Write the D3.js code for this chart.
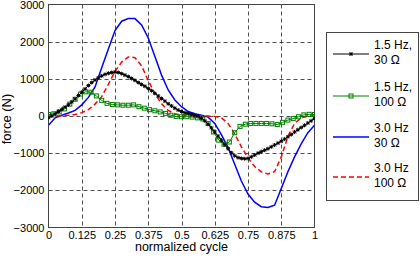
<!DOCTYPE html>
<html><head><meta charset="utf-8">
<script src="https://cdn.jsdelivr.net/npm/d3@7"></script>
<style>body{margin:0;background:#fff}svg{display:block;font-family:"Liberation Sans",Arial,sans-serif}</style>
</head><body><svg id="c" width="420" height="262"></svg>
<script>
const xTicks = [0,0.125,0.25,0.375,0.5,0.625,0.75,0.875,1];
const xTickLabels = ["0","0.125","0.25","0.375","0.5","0.625","0.75","0.875","1"];
const yTicks = [-3000,-2000,-1000,0,1000,2000,3000];
const seriesNames = [["1.5 Hz,","30 \u03A9"],["1.5 Hz,","100 \u03A9"],["3.0 Hz","30 \u03A9"],["3.0 Hz","100 \u03A9"]];
// 1.5 Hz 30 ohm, step 0.0125
const black = [-50,0,60,120,180,240,300,380,460,550,640,730,820,900,970,1030,1080,1120,1150,1170,1180,1170,1140,1100,1060,1010,960,900,850,800,740,680,610,540,470,400,330,270,210,160,120,90,70,50,20,-10,-60,-130,-220,-320,-430,-540,-650,-770,-880,-990,-1070,-1120,-1140,-1150,-1140,-1100,-1050,-1000,-960,-920,-880,-830,-780,-730,-680,-620,-560,-500,-430,-370,-310,-250,-190,-130,-70];
// 1.5 Hz 100 ohm, step 0.02
const green = [40,60,110,190,320,450,590,650,640,540,420,340,310,300,290,290,300,250,210,170,140,110,70,20,-10,-20,-20,-30,-50,-80,-200,-430,-650,-760,-700,-450,-280,-220,-200,-200,-200,-200,-210,-230,-170,-110,-70,-20,30,45,40];
// 3.0 Hz 30 ohm, step 0.025
const blue = [-250,-50,20,80,150,300,500,780,1300,1800,2300,2550,2620,2620,2450,2100,1600,1100,700,430,250,120,60,20,-30,-200,-500,-850,-1300,-1750,-2100,-2320,-2440,-2460,-2400,-1950,-1500,-1100,-750,-450,-250];
// 3.0 Hz 100 ohm, step 0.025
const red = [0,0,10,20,40,90,170,320,520,850,1200,1450,1590,1570,1350,950,600,330,150,60,20,10,0,0,0,-10,-50,-200,-480,-830,-1130,-1360,-1500,-1560,-1500,-1100,-550,-200,-50,0,0];

const svg = d3.select("#c");
const L=48.5, R=314.5, T=4.5, B=227.5;
const x = d3.scaleLinear().domain([0,1]).range([L,R]);
const y = d3.scaleLinear().domain([-3000,3000]).range([B,T]);

// grid
const g = svg.append("g");
g.selectAll(".vg").data(xTicks.slice(1,-1)).enter().append("line")
  .attr("x1",d=>Math.round(x(d))+0.5).attr("x2",d=>Math.round(x(d))+0.5).attr("y1",T).attr("y2",B)
  .attr("stroke","#222").attr("stroke-width",0.8).attr("stroke-dasharray","4,3");
g.selectAll(".hg").data(yTicks.slice(1,-1)).enter().append("line")
  .attr("x1",L).attr("x2",R).attr("y1",d=>Math.round(y(d))+0.5).attr("y2",d=>Math.round(y(d))+0.5)
  .attr("stroke","#222").attr("stroke-width",0.8).attr("stroke-dasharray","4,3");

// axes
const xa = svg.append("g").attr("transform",`translate(0,${B})`)
  .call(d3.axisBottom(x).tickValues(xTicks).tickFormat((d,i)=>xTickLabels[i]).tickSize(0).tickPadding(4));
const ya = svg.append("g").attr("transform",`translate(${L},0)`)
  .call(d3.axisLeft(y).tickValues(yTicks).tickFormat(d3.format("d")).tickSize(0).tickPadding(4));
[xa,ya].forEach(a=>{a.select(".domain").remove();a.selectAll("text").attr("font-size",11).attr("fill","#000").attr("font-family","Liberation Sans, Arial, sans-serif");});
svg.append("rect").attr("x",L).attr("y",T).attr("width",R-L).attr("height",B-T).attr("fill","none").attr("stroke","#444").attr("stroke-width",1);

svg.append("text").attr("x",(L+R)/2).attr("y",251).attr("text-anchor","middle").attr("font-size",12.5).text("normalized cycle");
svg.append("text").attr("transform",`translate(11,119) rotate(-90)`).attr("text-anchor","middle").attr("font-size",13).text("force (N)");

const clip = svg.append("defs").append("clipPath").attr("id","cp").append("rect").attr("x",L).attr("y",T).attr("width",R-L).attr("height",B-T);
const plot = svg.append("g").attr("clip-path","url(#cp)");
const line = d3.line().x(d=>x(d[0])).y(d=>y(d[1]));
const mk = (arr,step)=>arr.map((v,i)=>[i*step,v]);
const dB = mk(black,0.0125), dG = mk(green,0.02), dBl = mk(blue,0.025), dR = mk(red,0.025);

plot.append("path").datum(dBl).attr("d",line).attr("fill","none").attr("stroke","#0000ff").attr("stroke-width",1.5);
plot.append("path").datum(dR).attr("d",line).attr("fill","none").attr("stroke","#ff0000").attr("stroke-width",1.5).attr("stroke-dasharray","5,3");
plot.append("path").datum(dG).attr("d",line).attr("fill","none").attr("stroke","#008000").attr("stroke-width",1);
plot.selectAll(".gm").data(dG).enter().append("rect")
  .attr("x",d=>x(d[0])-2).attr("y",d=>y(d[1])-2).attr("width",4).attr("height",4)
  .attr("fill","none").attr("stroke","#008000").attr("stroke-width",1);
plot.append("path").datum(dB).attr("d",line).attr("fill","none").attr("stroke","#000").attr("stroke-width",1);
const star = "M-2,0H2M0,-2V2M-1.5,-1.5L1.5,1.5M-1.5,1.5L1.5,-1.5";
plot.selectAll(".bm").data(dB).enter().append("path")
  .attr("transform",d=>`translate(${x(d[0])},${y(d[1])})`).attr("d",star)
  .attr("stroke","#000").attr("stroke-width",1).attr("fill","none");

// legend
const lg = svg.append("g");
lg.append("rect").attr("x",326.5).attr("y",32.5).attr("width",92).attr("height",168).attr("fill","#fff").attr("stroke","#444");
const ly = [54,96,137,177];
const styles = [
  {c:"#000",w:1,dash:null,m:"star"},
  {c:"#008000",w:1,dash:null,m:"sq"},
  {c:"#0000ff",w:1.5,dash:null,m:null},
  {c:"#ff0000",w:1.5,dash:"5,3",m:null}];
seriesNames.forEach((nm,i)=>{
  const s=styles[i], yy=ly[i];
  lg.append("line").attr("x1",333).attr("x2",369).attr("y1",yy).attr("y2",yy).attr("stroke",s.c).attr("stroke-width",s.w).attr("stroke-dasharray",s.dash);
  if(s.m==="star") lg.append("path").attr("transform",`translate(351,${yy})`).attr("d",star).attr("stroke","#000").attr("fill","none");
  if(s.m==="sq") lg.append("rect").attr("x",349).attr("y",yy-2).attr("width",4).attr("height",4).attr("fill","none").attr("stroke",s.c);
  const t = lg.append("text").attr("x",374).attr("y",yy-5).attr("font-size",12);
  t.append("tspan").attr("x",374).text(nm[0]);
  t.append("tspan").attr("x",374).attr("dy",15).text(nm[1]);
});
</script></body></html>
